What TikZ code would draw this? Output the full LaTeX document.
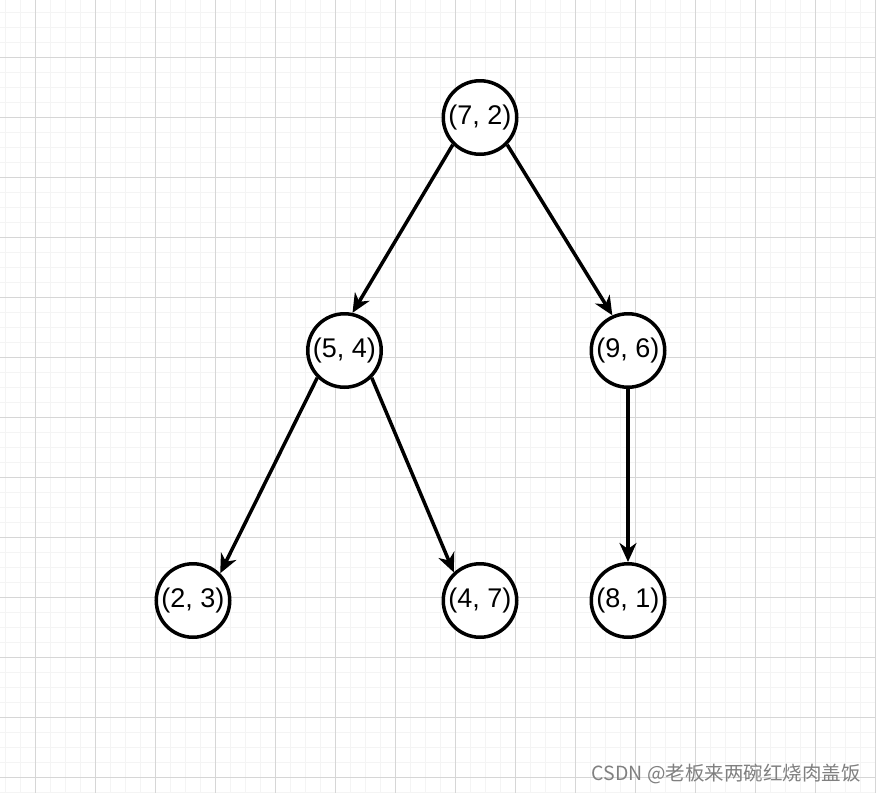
\documentclass[tikz,border=0pt]{standalone}
\usepackage{fontspec}
\setmainfont{Liberation Sans}
\newfontfamily\cjk{Noto Sans CJK SC}
\usetikzlibrary{arrows.meta}
\definecolor{gridminor}{HTML}{F4F4F4}
\definecolor{gridmajor}{HTML}{D6D6D6}
\definecolor{wmgray}{HTML}{808080}
\begin{document}
\begin{tikzpicture}[x=1pt,y=-1pt,
  treenode/.style={circle,draw=black,line width=3.5pt,fill=white,minimum size=73.5pt,inner sep=0pt,font=\fontsize{27}{29}\selectfont},
  edgearrow/.style={line width=3.5pt,-{Stealth[length=19pt,width=17pt,inset=6pt]}}]
\fill[white] (0,0) rectangle (876,793);
\useasboundingbox (0,0) rectangle (876,793);
\foreach \x in {5,20,...,875} \draw[gridminor,line width=1pt] (\x,0) -- (\x,793);
\foreach \y in {12,27,...,792} \draw[gridminor,line width=1pt] (0,\y) -- (876,\y);
\foreach \x in {35,95,...,875} \draw[gridmajor,line width=1pt] (\x,0) -- (\x,793);
\foreach \y in {57,117,...,792} \draw[gridmajor,line width=1pt] (0,\y) -- (876,\y);

\node[treenode] (a) at (480,117.5) {(7, 2)};
\node[treenode] (b) at (344.5,350.5) {(5, 4)};
\node[treenode] (c) at (628,350.5) {(9, 6)};
\node[treenode] (d) at (193,600.5) {(2, 3)};
\node[treenode] (e) at (480,600.5) {(4, 7)};
\node[treenode] (f) at (628,600.5) {(8, 1)};

\draw[edgearrow] (a.225) -- (b.78);
\draw[edgearrow] (a.315) -- (c.114);
\draw[edgearrow] (b.225) -- (d.45);
\draw[edgearrow] (b.315) -- (e.133);
\draw[edgearrow] (c.270) -- (f.90);

\node[anchor=east,text=wmgray,font=\cjk\fontsize{19.5}{21}\selectfont,inner sep=0pt] (wm) at (861,774) {CSDN @老板来两碗红烧肉盖饭};
\end{tikzpicture}
\end{document}
